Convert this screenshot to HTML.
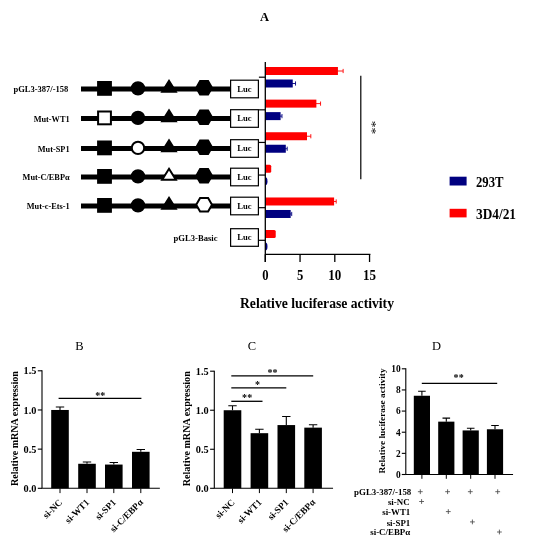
<!DOCTYPE html>
<html><head><meta charset="utf-8"><title>Figure</title>
<style>
html,body{margin:0;padding:0;background:#fff;}
body{width:540px;height:550px;overflow:hidden;}
svg{display:block;}
text{font-family:"Liberation Serif","Times New Roman",serif;fill:#000;}
.b{font-weight:bold;}
</style></head><body>
<svg width="540" height="550" viewBox="0 0 540 550">
<rect width="540" height="550" fill="#fff"/>

<text class="b" x="264.4" y="21.4" font-size="12.5" text-anchor="middle">A</text>
<text class="b" x="68.3" y="92.1" font-size="8.5" text-anchor="end">pGL3-387/-158</text>
<rect x="81" y="86.5" width="149.5" height="5" fill="#000"/>
<rect x="97.9" y="81.80000000000001" width="13.2" height="13.2" fill="#000" stroke="#000" stroke-width="1.6"/>
<circle cx="138" cy="88.4" r="6.4" fill="#000" stroke="#000" stroke-width="1.6"/>
<polygon points="169,80.4 176.2,92.0 161.8,92.0" fill="#000" stroke="#000" stroke-width="1.6" stroke-linejoin="miter"/>
<polygon points="196.0,87.8 200.0,80.8 208.2,80.8 212.2,87.8 208.2,94.8 200.0,94.8" fill="#000" stroke="#000" stroke-width="1.6"/>
<rect x="230.6" y="80.2" width="27.8" height="17.6" fill="#fff" stroke="#000" stroke-width="1.2"/>
<text class="b" x="244.5" y="91.5" font-size="8.6" text-anchor="middle">Luc</text>
<text class="b" x="69.6" y="121.6" font-size="8.3" text-anchor="end">Mut-WT1</text>
<rect x="81" y="116.0" width="149.5" height="5" fill="#000"/>
<rect x="98.10000000000001" y="111.50000000000001" width="12.799999999999999" height="12.799999999999999" fill="#fff" stroke="#000" stroke-width="2.0"/>
<circle cx="138" cy="117.9" r="6.4" fill="#000" stroke="#000" stroke-width="1.6"/>
<polygon points="169,109.9 176.2,121.5 161.8,121.5" fill="#000" stroke="#000" stroke-width="1.6" stroke-linejoin="miter"/>
<polygon points="196.0,117.3 200.0,110.3 208.2,110.3 212.2,117.3 208.2,124.3 200.0,124.3" fill="#000" stroke="#000" stroke-width="1.6"/>
<rect x="230.6" y="109.7" width="27.8" height="17.6" fill="#fff" stroke="#000" stroke-width="1.2"/>
<text class="b" x="244.5" y="121.0" font-size="8.6" text-anchor="middle">Luc</text>
<text class="b" x="69.6" y="151.6" font-size="8.3" text-anchor="end">Mut-SP1</text>
<rect x="81" y="146.0" width="149.5" height="5" fill="#000"/>
<rect x="97.9" y="141.3" width="13.2" height="13.2" fill="#000" stroke="#000" stroke-width="1.6"/>
<circle cx="138" cy="147.9" r="6.2" fill="#fff" stroke="#000" stroke-width="2.0"/>
<polygon points="169,139.9 176.2,151.5 161.8,151.5" fill="#000" stroke="#000" stroke-width="1.6" stroke-linejoin="miter"/>
<polygon points="196.0,147.3 200.0,140.3 208.2,140.3 212.2,147.3 208.2,154.3 200.0,154.3" fill="#000" stroke="#000" stroke-width="1.6"/>
<rect x="230.6" y="139.7" width="27.8" height="17.6" fill="#fff" stroke="#000" stroke-width="1.2"/>
<text class="b" x="244.5" y="151.0" font-size="8.6" text-anchor="middle">Luc</text>
<text class="b" x="69.6" y="180.1" font-size="8.3" text-anchor="end">Mut-C/EBPα</text>
<rect x="81" y="174.5" width="149.5" height="5" fill="#000"/>
<rect x="97.9" y="169.8" width="13.2" height="13.2" fill="#000" stroke="#000" stroke-width="1.6"/>
<circle cx="138" cy="176.4" r="6.4" fill="#000" stroke="#000" stroke-width="1.6"/>
<polygon points="169,168.8 175.85999999999999,179.8 162.14000000000001,179.8" fill="#fff" stroke="#000" stroke-width="2.0" stroke-linejoin="miter"/>
<polygon points="196.0,175.8 200.0,168.8 208.2,168.8 212.2,175.8 208.2,182.8 200.0,182.8" fill="#000" stroke="#000" stroke-width="1.6"/>
<rect x="230.6" y="168.2" width="27.8" height="17.6" fill="#fff" stroke="#000" stroke-width="1.2"/>
<text class="b" x="244.5" y="179.5" font-size="8.6" text-anchor="middle">Luc</text>
<text class="b" x="69.6" y="209.1" font-size="8.3" text-anchor="end">Mut-c-Ets-1</text>
<rect x="81" y="203.5" width="149.5" height="5" fill="#000"/>
<rect x="97.9" y="198.8" width="13.2" height="13.2" fill="#000" stroke="#000" stroke-width="1.6"/>
<circle cx="138" cy="205.4" r="6.4" fill="#000" stroke="#000" stroke-width="1.6"/>
<polygon points="169,197.4 176.2,209.0 161.8,209.0" fill="#000" stroke="#000" stroke-width="1.6" stroke-linejoin="miter"/>
<polygon points="196.2,204.8 200.1,198.0 208.1,198.0 212.0,204.8 208.1,211.60000000000002 200.1,211.60000000000002" fill="#fff" stroke="#000" stroke-width="2.0"/>
<rect x="230.6" y="197.2" width="27.8" height="17.6" fill="#fff" stroke="#000" stroke-width="1.2"/>
<text class="b" x="244.5" y="208.5" font-size="8.6" text-anchor="middle">Luc</text>
<text class="b" x="217.5" y="240.7" font-size="8.6" text-anchor="end">pGL3-Basic</text>
<rect x="230.6" y="228.7" width="27.8" height="17.6" fill="#fff" stroke="#000" stroke-width="1.2"/>
<text class="b" x="244.5" y="240.0" font-size="8.6" text-anchor="middle">Luc</text>
<g>
<path d="M336.93,71.00 H343.14 M343.14,68.90 V73.10" stroke="#ff0000" stroke-width="0.9" fill="none"/>
<rect x="265.30" y="67.00" width="72.63" height="8" fill="#ff0000"/>
<path d="M291.75,83.50 H295.53 M295.53,81.40 V85.60" stroke="#000080" stroke-width="0.9" fill="none"/>
<rect x="265.30" y="79.50" width="27.45" height="8" fill="#000080"/>
<path d="M258.9,77.20 H265.30" stroke="#000" stroke-width="1.2"/>
<path d="M315.38,103.62 H320.55 M320.55,101.52 V105.72" stroke="#ff0000" stroke-width="0.9" fill="none"/>
<rect x="265.30" y="99.62" width="51.08" height="8" fill="#ff0000"/>
<path d="M279.59,116.12 H281.98 M281.98,114.02 V118.22" stroke="#000080" stroke-width="0.9" fill="none"/>
<rect x="265.30" y="112.12" width="15.29" height="8" fill="#000080"/>
<path d="M258.9,109.82 H265.30" stroke="#000" stroke-width="1.2"/>
<path d="M306.00,136.24 H310.82 M310.82,134.14 V138.34" stroke="#ff0000" stroke-width="0.9" fill="none"/>
<rect x="265.30" y="132.24" width="41.70" height="8" fill="#ff0000"/>
<path d="M284.80,148.74 H287.19 M287.19,146.64 V150.84" stroke="#000080" stroke-width="0.9" fill="none"/>
<rect x="265.30" y="144.74" width="20.50" height="8" fill="#000080"/>
<path d="M258.9,142.44 H265.30" stroke="#000" stroke-width="1.2"/>
<path d="M265.30,164.86 H269.71 q1.5,0 1.5,1.5 V171.36 q0,1.5 -1.5,1.5 H265.30 z" fill="#ff0000"/>
<path d="M265.30,177.36 a2.2,4 0 0 1 0,8 z" fill="#000080"/>
<path d="M258.9,175.06 H265.30" stroke="#000" stroke-width="1.2"/>
<path d="M333.11,201.48 H336.19 M336.19,199.38 V203.58" stroke="#ff0000" stroke-width="0.9" fill="none"/>
<rect x="265.30" y="197.48" width="68.81" height="8" fill="#ff0000"/>
<path d="M289.67,213.98 H291.71 M291.71,211.88 V216.08" stroke="#000080" stroke-width="0.9" fill="none"/>
<rect x="265.30" y="209.98" width="25.37" height="8" fill="#000080"/>
<path d="M258.9,207.68 H265.30" stroke="#000" stroke-width="1.2"/>
<path d="M265.30,230.10 H274.23 q1.5,0 1.5,1.5 V236.60 q0,1.5 -1.5,1.5 H265.30 z" fill="#ff0000"/>
<path d="M265.30,242.60 a2.2,4 0 0 1 0,8 z" fill="#000080"/>
<path d="M258.9,240.30 H265.30" stroke="#000" stroke-width="1.2"/>
</g>
<path d="M265.3,62 V262 M265.3,254.3 H370.4" stroke="#000" stroke-width="1.3" fill="none"/>
<path d="M265.30,254.3 V262" stroke="#000" stroke-width="1.3"/>
<text class="b" x="265.30" y="280" font-size="14.5" text-anchor="middle" textLength="6.3" lengthAdjust="spacingAndGlyphs">0</text>
<path d="M300.05,254.3 V262" stroke="#000" stroke-width="1.3"/>
<text class="b" x="300.05" y="280" font-size="14.5" text-anchor="middle" textLength="6.3" lengthAdjust="spacingAndGlyphs">5</text>
<path d="M334.80,254.3 V262" stroke="#000" stroke-width="1.3"/>
<text class="b" x="334.80" y="280" font-size="14.5" text-anchor="middle" textLength="13" lengthAdjust="spacingAndGlyphs">10</text>
<path d="M369.55,254.3 V262" stroke="#000" stroke-width="1.3"/>
<text class="b" x="369.55" y="280" font-size="14.5" text-anchor="middle" textLength="13" lengthAdjust="spacingAndGlyphs">15</text>
<text class="b" x="317" y="307.6" font-size="14" text-anchor="middle" textLength="154" lengthAdjust="spacingAndGlyphs">Relative luciferase activity</text>
<path d="M360.8,75.8 V179.3" stroke="#000" stroke-width="1.2"/>
<text transform="translate(368.4,127.5) rotate(90)" font-size="13.5" text-anchor="middle">**</text>
<rect x="449.6" y="176.7" width="17" height="8.8" fill="#000080"/>
<text class="b" x="476" y="186.9" font-size="13.8" textLength="27.5" lengthAdjust="spacingAndGlyphs">293T</text>
<rect x="449.6" y="208.8" width="17" height="8.6" fill="#ff0000"/>
<text class="b" x="476" y="219.1" font-size="13.8" textLength="40" lengthAdjust="spacingAndGlyphs">3D4/21</text>
<text x="79.4" y="349.8" font-size="12.5" text-anchor="middle">B</text>
<path d="M60.00,409.97 V406.99 M55.80,406.99 H64.20" stroke="#000" stroke-width="1.1" fill="none"/>
<rect x="51.20" y="409.97" width="17.6" height="78.33" fill="#000"/>
<path d="M60.00,488.3 V493.1" stroke="#000" stroke-width="1"/>
<path d="M87.00,463.78 V462.06 M82.80,462.06 H91.20" stroke="#000" stroke-width="1.1" fill="none"/>
<rect x="78.20" y="463.78" width="17.6" height="24.52" fill="#000"/>
<path d="M87.00,488.3 V493.1" stroke="#000" stroke-width="1"/>
<path d="M113.80,464.56 V462.53 M109.60,462.53 H118.00" stroke="#000" stroke-width="1.1" fill="none"/>
<rect x="105.00" y="464.56" width="17.6" height="23.74" fill="#000"/>
<path d="M113.80,488.3 V493.1" stroke="#000" stroke-width="1"/>
<path d="M140.80,451.80 V449.45 M136.60,449.45 H145.00" stroke="#000" stroke-width="1.1" fill="none"/>
<rect x="132.00" y="451.80" width="17.6" height="36.50" fill="#000"/>
<path d="M140.80,488.3 V493.1" stroke="#000" stroke-width="1"/>
<path d="M42,370.8 V488.3 H159.3" stroke="#000" stroke-width="1.1" fill="none" stroke-linecap="square"/>
<path d="M37.8,488.30 H42" stroke="#000" stroke-width="1.1"/>
<text class="b" x="36.4" y="491.90" font-size="10.3" text-anchor="end">0.0</text>
<path d="M37.8,449.13 H42" stroke="#000" stroke-width="1.1"/>
<text class="b" x="36.4" y="452.73" font-size="10.3" text-anchor="end">0.5</text>
<path d="M37.8,409.97 H42" stroke="#000" stroke-width="1.1"/>
<text class="b" x="36.4" y="413.57" font-size="10.3" text-anchor="end">1.0</text>
<path d="M37.8,370.80 H42" stroke="#000" stroke-width="1.1"/>
<text class="b" x="36.4" y="374.40" font-size="10.3" text-anchor="end">1.5</text>
<text class="b" transform="translate(18.4,428.55) rotate(-90)" font-size="10.8" text-anchor="middle" textLength="115" lengthAdjust="spacingAndGlyphs">Relative mRNA expression</text>
<text class="b" transform="translate(62.80,502.90) rotate(-45)" font-size="9.4" text-anchor="end">si-NC</text>
<text class="b" transform="translate(89.80,502.90) rotate(-45)" font-size="9.4" text-anchor="end">si-WT1</text>
<text class="b" transform="translate(116.60,502.90) rotate(-45)" font-size="9.4" text-anchor="end">si-SP1</text>
<text class="b" transform="translate(143.60,502.90) rotate(-45)" font-size="9.4" text-anchor="end">si-C/EBPα</text>
<path d="M58.599999999999994,398.4 H141.4" stroke="#000" stroke-width="1.3"/>
<text class="b" x="100.35" y="398.5" font-size="10" letter-spacing="0.2" text-anchor="middle">**</text>
<text x="251.9" y="349.8" font-size="12.5" text-anchor="middle">C</text>
<path d="M232.50,410.23 V405.78 M228.30,405.78 H236.70" stroke="#000" stroke-width="1.1" fill="none"/>
<rect x="223.70" y="410.23" width="17.6" height="78.07" fill="#000"/>
<path d="M232.50,488.3 V493.1" stroke="#000" stroke-width="1"/>
<path d="M259.40,433.18 V429.28 M255.20,429.28 H263.60" stroke="#000" stroke-width="1.1" fill="none"/>
<rect x="250.60" y="433.18" width="17.6" height="55.12" fill="#000"/>
<path d="M259.40,488.3 V493.1" stroke="#000" stroke-width="1"/>
<path d="M286.30,425.07 V416.48 M282.10,416.48 H290.50" stroke="#000" stroke-width="1.1" fill="none"/>
<rect x="277.50" y="425.07" width="17.6" height="63.23" fill="#000"/>
<path d="M286.30,488.3 V493.1" stroke="#000" stroke-width="1"/>
<path d="M313.10,427.64 V424.68 M308.90,424.68 H317.30" stroke="#000" stroke-width="1.1" fill="none"/>
<rect x="304.30" y="427.64" width="17.6" height="60.66" fill="#000"/>
<path d="M313.10,488.3 V493.1" stroke="#000" stroke-width="1"/>
<path d="M214.3,371.2 V488.3 H332.5" stroke="#000" stroke-width="1.1" fill="none" stroke-linecap="square"/>
<path d="M210.10000000000002,488.30 H214.3" stroke="#000" stroke-width="1.1"/>
<text class="b" x="208.70000000000002" y="491.90" font-size="10.3" text-anchor="end">0.0</text>
<path d="M210.10000000000002,449.27 H214.3" stroke="#000" stroke-width="1.1"/>
<text class="b" x="208.70000000000002" y="452.87" font-size="10.3" text-anchor="end">0.5</text>
<path d="M210.10000000000002,410.23 H214.3" stroke="#000" stroke-width="1.1"/>
<text class="b" x="208.70000000000002" y="413.83" font-size="10.3" text-anchor="end">1.0</text>
<path d="M210.10000000000002,371.20 H214.3" stroke="#000" stroke-width="1.1"/>
<text class="b" x="208.70000000000002" y="374.80" font-size="10.3" text-anchor="end">1.5</text>
<text class="b" transform="translate(190.4,428.75) rotate(-90)" font-size="10.8" text-anchor="middle" textLength="115" lengthAdjust="spacingAndGlyphs">Relative mRNA expression</text>
<text class="b" transform="translate(235.30,502.90) rotate(-45)" font-size="9.4" text-anchor="end">si-NC</text>
<text class="b" transform="translate(262.20,502.90) rotate(-45)" font-size="9.4" text-anchor="end">si-WT1</text>
<text class="b" transform="translate(289.10,502.90) rotate(-45)" font-size="9.4" text-anchor="end">si-SP1</text>
<text class="b" transform="translate(315.90,502.90) rotate(-45)" font-size="9.4" text-anchor="end">si-C/EBPα</text>
<path d="M231.3,375.8 H313.2" stroke="#000" stroke-width="1.3"/>
<text class="b" x="272.60" y="375.90000000000003" font-size="10" letter-spacing="0.2" text-anchor="middle">**</text>
<path d="M231.3,387.8 H286.3" stroke="#000" stroke-width="1.3"/>
<text class="b" x="257.50" y="387.90000000000003" font-size="10" letter-spacing="0.2" text-anchor="middle">*</text>
<path d="M231.3,401.3 H262.5" stroke="#000" stroke-width="1.3"/>
<text class="b" x="247.25" y="401.40000000000003" font-size="10" letter-spacing="0.2" text-anchor="middle">**</text>
<text x="436.6" y="349.8" font-size="12.5" text-anchor="middle">D</text>
<path d="M421.90,395.75 V391.31 M418.10,391.31 H425.70" stroke="#000" stroke-width="1.1" fill="none"/>
<rect x="413.80" y="395.75" width="16.2" height="78.75" fill="#000"/>
<path d="M421.90,474.5 V478.8" stroke="#000" stroke-width="1"/>
<path d="M446.30,421.65 V418.16 M442.50,418.16 H450.10" stroke="#000" stroke-width="1.1" fill="none"/>
<rect x="438.20" y="421.65" width="16.2" height="52.85" fill="#000"/>
<path d="M446.30,474.5 V478.8" stroke="#000" stroke-width="1"/>
<path d="M470.70,430.42 V428.31 M466.90,428.31 H474.50" stroke="#000" stroke-width="1.1" fill="none"/>
<rect x="462.60" y="430.42" width="16.2" height="44.08" fill="#000"/>
<path d="M470.70,474.5 V478.8" stroke="#000" stroke-width="1"/>
<path d="M495.00,429.26 V425.46 M491.20,425.46 H498.80" stroke="#000" stroke-width="1.1" fill="none"/>
<rect x="486.90" y="429.26" width="16.2" height="45.24" fill="#000"/>
<path d="M495.00,474.5 V478.8" stroke="#000" stroke-width="1"/>
<path d="M405.8,368.8 V474.5 H512.5" stroke="#000" stroke-width="1.1" fill="none" stroke-linecap="square"/>
<path d="M401.8,474.50 H405.8" stroke="#000" stroke-width="1.1"/>
<text class="b" x="400.6" y="477.80" font-size="9.4" text-anchor="end">0</text>
<path d="M401.8,453.36 H405.8" stroke="#000" stroke-width="1.1"/>
<text class="b" x="400.6" y="456.66" font-size="9.4" text-anchor="end">2</text>
<path d="M401.8,432.22 H405.8" stroke="#000" stroke-width="1.1"/>
<text class="b" x="400.6" y="435.52" font-size="9.4" text-anchor="end">4</text>
<path d="M401.8,411.08 H405.8" stroke="#000" stroke-width="1.1"/>
<text class="b" x="400.6" y="414.38" font-size="9.4" text-anchor="end">6</text>
<path d="M401.8,389.94 H405.8" stroke="#000" stroke-width="1.1"/>
<text class="b" x="400.6" y="393.24" font-size="9.4" text-anchor="end">8</text>
<path d="M401.8,368.80 H405.8" stroke="#000" stroke-width="1.1"/>
<text class="b" x="400.6" y="372.10" font-size="9.4" text-anchor="end">10</text>
<text class="b" transform="translate(385.3,420.95) rotate(-90)" font-size="8.6" text-anchor="middle" textLength="105" lengthAdjust="spacingAndGlyphs">Relative luciferase activity</text>
<path d="M421.8,383.3 H497.2" stroke="#000" stroke-width="1.3"/>
<text class="b" x="458.7" y="381.0" font-size="10" letter-spacing="0.2" text-anchor="middle">**</text>
<text class="b" x="411.3" y="494.90000000000003" font-size="8.9" text-anchor="end">pGL3-387/-158</text>
<text class="b" x="409.6" y="505.40000000000003" font-size="8.9" text-anchor="end">si-NC</text>
<text class="b" x="410.3" y="515.1" font-size="8.9" text-anchor="end">si-WT1</text>
<text class="b" x="410.3" y="525.5" font-size="8.9" text-anchor="end">si-SP1</text>
<text class="b" x="410.2" y="535.1" font-size="8.9" text-anchor="end">si-C/EBPα</text>
<path d="M417.90,491.70 H422.70 M420.30,489.30 V494.10" stroke="#4a4a4a" stroke-width="0.85" fill="none"/>
<path d="M445.20,491.70 H450.00 M447.60,489.30 V494.10" stroke="#4a4a4a" stroke-width="0.85" fill="none"/>
<path d="M467.90,491.70 H472.70 M470.30,489.30 V494.10" stroke="#4a4a4a" stroke-width="0.85" fill="none"/>
<path d="M495.30,491.70 H500.10 M497.70,489.30 V494.10" stroke="#4a4a4a" stroke-width="0.85" fill="none"/>
<path d="M419.20,501.50 H424.00 M421.60,499.10 V503.90" stroke="#4a4a4a" stroke-width="0.85" fill="none"/>
<path d="M445.90,511.60 H450.70 M448.30,509.20 V514.00" stroke="#4a4a4a" stroke-width="0.85" fill="none"/>
<path d="M470.00,521.90 H474.80 M472.40,519.50 V524.30" stroke="#4a4a4a" stroke-width="0.85" fill="none"/>
<path d="M497.00,532.00 H501.80 M499.40,529.60 V534.40" stroke="#4a4a4a" stroke-width="0.85" fill="none"/>
</svg></body></html>
